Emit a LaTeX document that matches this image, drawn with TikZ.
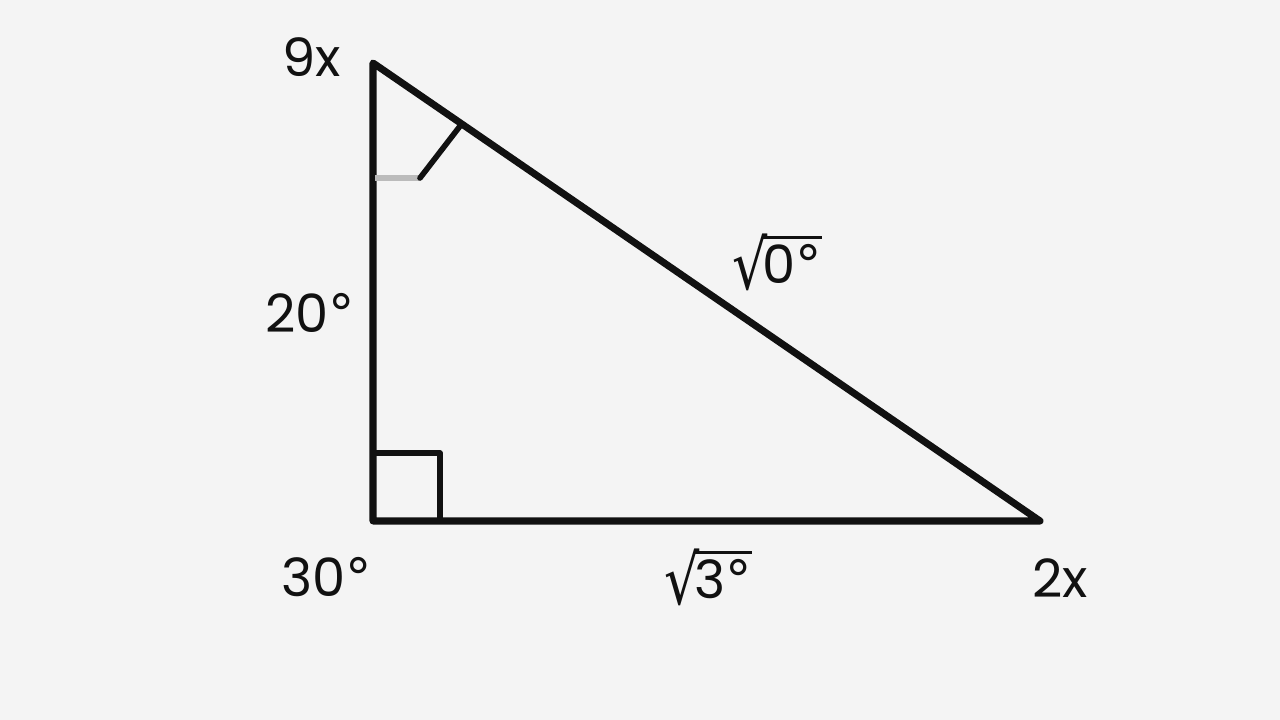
\documentclass[tikz,border=0pt]{standalone}
\usepackage{amsmath}
\usepackage{fontspec}
\setmainfont{Poppins}
\newfontfamily\dejavu{DejaVu Sans}
\usetikzlibrary{calc}
\definecolor{bgcol}{HTML}{F4F4F4}
\definecolor{inkcol}{HTML}{111111}
\definecolor{markgray}{HTML}{BBBBBB}
\newcommand{\degsym}{{\dejavu °}}
\newcommand{\rootlbl}[1]{\raisebox{-0.1em}{\scalebox{1.05}[1.3]{\dejavu √}}\kern-0.1em\vbox{\hrule height 0.07em \kern 0.1em\hbox{#1}}}
\tikzset{
    side/.style={draw=inkcol, line width=2pt, line join=round, line cap=round},
    lbl/.style={inner sep=0pt, text=inkcol, font=\fontsize{15}{18}\selectfont}
}

\begin{document}
\begin{tikzpicture}

            \fill [bgcol] (0,0) rectangle (12.8,7.2);
            \useasboundingbox (0,0) rectangle (12.8,7.2);

            % vertices
            \coordinate (a) at (3.73,6.57);
            \coordinate (b) at (3.73,1.99);
            \coordinate (c) at (10.40,1.99);

            % right angle and angle mark
            \coordinate (sq1) at (3.73,2.67);
            \coordinate (sq2) at (4.40,2.67);
            \coordinate (sq3) at (4.40,1.99);
            \coordinate (m1) at (3.75,5.42);
            \coordinate (m2) at (4.20,5.42);
            \coordinate (m3) at ($(a)!0.133!(c)$);

            \draw [side] (a) -- (b) -- (c) -- cycle;
            \draw [side, line width=1.6pt] (sq1) -- (sq2) -- (sq3);
            \draw [markgray, line width=1.6pt] (m1) -- (m2);
            \draw [side, line width=1.6pt] (m2) -- (m3);

            \path   (3.12,6.63) node (ltop) [lbl] {9x}
                    (3.10,4.07) node (lleft) [lbl] {20\degsym}
                    (3.27,1.43) node (lbot) [lbl] {30\degsym}
                    (7.08,1.43) node (lbase) [lbl] {\rootlbl{3\degsym}}
                    (10.60,1.42) node (lright) [lbl] {2x}
                    (7.77,4.58) node (lhyp) [lbl] {\rootlbl{0\degsym}};

        \end{tikzpicture}
\end{document}
